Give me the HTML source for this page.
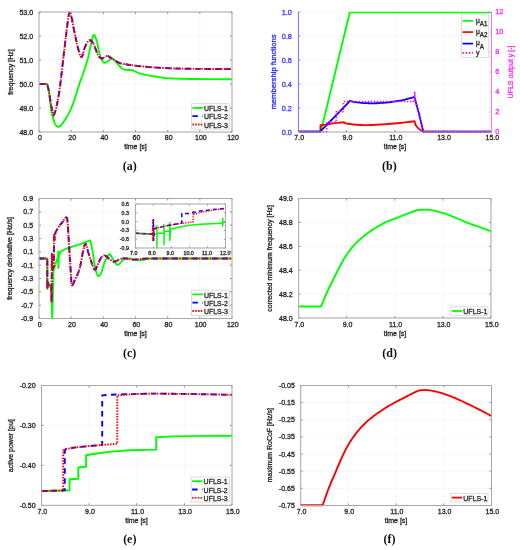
<!DOCTYPE html>
<html><head><meta charset="utf-8"><title>UFLS figure</title>
<style>
html,body{margin:0;padding:0;background:#fff;}
body{width:520px;height:550px;overflow:hidden;}
svg{display:block;filter:blur(0.3px);}
svg text{font-family:"Liberation Sans", Arial, sans-serif;stroke-width:0.3px;}
svg text.cap{font-family:"Liberation Serif", "Times New Roman", serif;font-weight:bold;}
</style></head><body>
<svg width="520" height="550" viewBox="0 0 520 550">
<rect x="0" y="0" width="520" height="550" fill="#fff"/>
<line x1="39.00" y1="12.00" x2="39.00" y2="132.00" stroke="#f2f2f2" stroke-width="0.6"/>
<line x1="71.17" y1="12.00" x2="71.17" y2="132.00" stroke="#f2f2f2" stroke-width="0.6"/>
<line x1="103.33" y1="12.00" x2="103.33" y2="132.00" stroke="#f2f2f2" stroke-width="0.6"/>
<line x1="135.50" y1="12.00" x2="135.50" y2="132.00" stroke="#f2f2f2" stroke-width="0.6"/>
<line x1="167.67" y1="12.00" x2="167.67" y2="132.00" stroke="#f2f2f2" stroke-width="0.6"/>
<line x1="199.83" y1="12.00" x2="199.83" y2="132.00" stroke="#f2f2f2" stroke-width="0.6"/>
<line x1="232.00" y1="12.00" x2="232.00" y2="132.00" stroke="#f2f2f2" stroke-width="0.6"/>
<line x1="39.00" y1="132.00" x2="232.00" y2="132.00" stroke="#f2f2f2" stroke-width="0.6"/>
<line x1="39.00" y1="108.00" x2="232.00" y2="108.00" stroke="#f2f2f2" stroke-width="0.6"/>
<line x1="39.00" y1="84.00" x2="232.00" y2="84.00" stroke="#f2f2f2" stroke-width="0.6"/>
<line x1="39.00" y1="60.00" x2="232.00" y2="60.00" stroke="#f2f2f2" stroke-width="0.6"/>
<line x1="39.00" y1="36.00" x2="232.00" y2="36.00" stroke="#f2f2f2" stroke-width="0.6"/>
<line x1="39.00" y1="12.00" x2="232.00" y2="12.00" stroke="#f2f2f2" stroke-width="0.6"/>
<polyline points="39.00,84.00 47.20,84.00 47.20,84.00 47.51,85.15 47.96,86.74 48.47,88.96 49.00,92.00 49.59,96.65 50.26,102.55 50.88,108.20 51.30,112.10 51.30,112.10 51.63,113.20 52.09,114.78 52.64,116.62 53.21,118.51 53.75,120.24 54.20,121.60 54.56,122.58 54.87,123.34 55.16,123.95 55.43,124.44 55.70,124.88 56.00,125.30 56.32,125.70 56.66,126.04 57.00,126.32 57.34,126.54 57.68,126.70 58.00,126.80 58.31,126.84 58.61,126.80 58.91,126.71 59.20,126.57 59.50,126.39 59.80,126.20 60.07,126.05 60.29,125.94 60.51,125.79 60.78,125.54 61.16,125.10 61.70,124.40 62.43,123.42 63.32,122.20 64.31,120.81 65.36,119.26 66.41,117.61 67.40,115.90 68.34,114.18 69.26,112.43 70.17,110.57 71.11,108.53 72.08,106.23 73.10,103.60 74.23,100.36 75.47,96.53 76.75,92.44 77.98,88.43 79.09,84.83 80.00,82.00 80.64,80.17 81.05,79.12 81.34,78.49 81.61,77.92 81.96,77.05 82.50,75.50 83.27,73.18 84.20,70.35 85.22,67.22 86.24,63.98 87.19,60.84 88.00,58.00 88.65,55.41 89.20,52.89 89.68,50.47 90.12,48.17 90.55,46.00 91.00,44.00 91.45,42.05 91.89,40.11 92.31,38.31 92.73,36.78 93.16,35.63 93.60,35.00 94.05,34.91 94.49,35.26 94.94,36.00 95.40,37.07 95.88,38.43 96.40,40.00 96.96,42.02 97.56,44.57 98.19,47.41 98.81,50.26 99.43,52.88 100.00,55.00 100.55,56.64 101.08,57.99 101.60,59.11 102.10,60.03 102.56,60.82 103.00,61.50 103.39,62.05 103.72,62.41 104.03,62.64 104.33,62.75 104.65,62.79 105.00,62.80 105.37,62.75 105.73,62.61 106.11,62.41 106.52,62.14 106.98,61.83 107.50,61.50 108.10,61.05 108.77,60.45 109.49,59.81 110.23,59.24 110.97,58.83 111.70,58.70 112.40,58.87 113.10,59.27 113.80,59.83 114.51,60.51 115.24,61.25 116.00,62.00 116.81,62.83 117.66,63.80 118.54,64.83 119.40,65.84 120.23,66.75 121.00,67.50 121.68,68.07 122.31,68.51 122.89,68.87 123.47,69.15 124.06,69.39 124.70,69.60 125.39,69.76 126.10,69.86 126.83,69.90 127.57,69.92 128.29,69.95 129.00,70.00 129.67,70.06 130.32,70.09 130.96,70.13 131.60,70.20 132.28,70.31 133.00,70.50 133.76,70.79 134.56,71.16 135.38,71.57 136.22,72.01 137.10,72.43 138.00,72.80 138.88,73.11 139.74,73.40 140.62,73.67 141.59,73.93 142.70,74.21 144.00,74.50 145.53,74.82 147.24,75.16 149.09,75.50 151.04,75.84 153.02,76.18 155.00,76.50 156.94,76.81 158.87,77.13 160.84,77.43 162.91,77.72 165.11,77.98 167.50,78.20 170.10,78.38 172.87,78.53 175.78,78.64 178.80,78.74 181.88,78.82 185.00,78.90 188.11,78.96 191.22,79.01 194.41,79.04 197.72,79.06 201.23,79.08 205.00,79.10 209.41,79.12 214.48,79.14 219.75,79.16 224.74,79.18 228.98,79.19 232.00,79.20" fill="none" stroke="#00ff00" stroke-width="1.9" stroke-linejoin="round"/>
<polyline points="39.00,84.00 47.20,84.00 47.20,84.00 47.51,85.30 47.96,87.12 48.47,89.39 49.00,92.00 49.54,95.19 50.11,98.91 50.71,102.68 51.30,106.00 51.95,108.89 52.64,111.58 53.27,113.82 53.70,115.40 53.70,115.40 53.96,114.72 54.31,113.85 54.73,112.79 55.18,111.53 55.65,110.06 56.10,108.40 56.55,106.45 57.04,104.20 57.53,101.75 58.02,99.20 58.48,96.65 58.90,94.20 59.24,92.09 59.51,90.27 59.76,88.46 60.03,86.35 60.36,83.63 60.80,80.00 61.38,75.12 62.07,69.17 62.83,62.61 63.60,55.92 64.34,49.56 65.00,44.00 65.59,39.12 66.14,34.50 66.66,30.22 67.15,26.34 67.59,22.91 68.00,20.00 68.34,17.64 68.63,15.80 68.87,14.41 69.10,13.42 69.33,12.77 69.60,12.40 69.89,12.36 70.19,12.72 70.49,13.41 70.81,14.39 71.15,15.61 71.50,17.00 71.86,18.62 72.23,20.53 72.62,22.66 73.03,24.99 73.49,27.45 74.00,30.00 74.59,32.81 75.24,35.96 75.94,39.25 76.65,42.48 77.34,45.46 78.00,48.00 78.61,50.24 79.20,52.37 79.78,54.25 80.35,55.74 80.92,56.70 81.50,57.00 82.08,56.39 82.65,54.94 83.22,52.97 83.80,50.78 84.39,48.68 85.00,47.00 85.64,45.61 86.30,44.24 86.97,42.97 87.65,41.87 88.33,41.02 89.00,40.50 89.66,40.29 90.30,40.31 90.94,40.59 91.59,41.13 92.28,41.93 93.00,43.00 93.79,44.55 94.65,46.61 95.53,48.94 96.41,51.28 97.24,53.38 98.00,55.00 98.68,56.13 99.31,56.96 99.91,57.56 100.46,57.98 100.99,58.28 101.50,58.50 101.96,58.60 102.37,58.52 102.75,58.31 103.13,58.04 103.54,57.75 104.00,57.50 104.51,57.23 105.06,56.89 105.62,56.53 106.22,56.22 106.85,56.02 107.50,56.00 108.16,56.16 108.81,56.47 109.50,56.88 110.24,57.38 111.06,57.93 112.00,58.50 113.09,59.16 114.31,59.94 115.62,60.77 116.96,61.59 118.27,62.32 119.50,62.90 120.63,63.31 121.69,63.60 122.73,63.80 123.77,63.96 124.85,64.11 126.00,64.30 127.19,64.51 128.38,64.71 129.61,64.91 130.90,65.11 132.29,65.30 133.80,65.50 135.43,65.70 137.14,65.90 138.95,66.11 140.86,66.31 142.87,66.51 145.00,66.70 147.22,66.89 149.53,67.09 151.95,67.28 154.49,67.46 157.17,67.64 160.00,67.80 163.04,67.96 166.30,68.11 169.69,68.25 173.15,68.38 176.61,68.50 180.00,68.60 183.19,68.68 186.22,68.74 189.25,68.79 192.44,68.83 195.97,68.86 200.00,68.90 205.01,68.94 210.96,68.98 217.25,69.02 223.26,69.05 228.38,69.08 232.00,69.10" fill="none" stroke="#0000ff" stroke-width="1.9" stroke-linejoin="round" stroke-dasharray="5.5,4.5"/>
<polyline points="39.00,84.00 47.20,84.00 47.20,84.00 47.51,85.30 47.96,87.12 48.47,89.39 49.00,92.00 49.54,95.19 50.11,98.91 50.71,102.68 51.30,106.00 51.95,108.89 52.64,111.58 53.27,113.82 53.70,115.40 53.70,115.40 53.96,114.72 54.31,113.85 54.73,112.79 55.18,111.53 55.65,110.06 56.10,108.40 56.55,106.45 57.04,104.20 57.53,101.75 58.02,99.20 58.48,96.65 58.90,94.20 59.24,92.09 59.51,90.27 59.76,88.46 60.03,86.35 60.36,83.63 60.80,80.00 61.38,75.12 62.07,69.17 62.83,62.61 63.60,55.92 64.34,49.56 65.00,44.00 65.59,39.12 66.14,34.50 66.66,30.22 67.15,26.34 67.59,22.91 68.00,20.00 68.34,17.64 68.63,15.80 68.87,14.41 69.10,13.42 69.33,12.77 69.60,12.40 69.89,12.36 70.19,12.72 70.49,13.41 70.81,14.39 71.15,15.61 71.50,17.00 71.86,18.62 72.23,20.53 72.62,22.66 73.03,24.99 73.49,27.45 74.00,30.00 74.59,32.81 75.24,35.96 75.94,39.25 76.65,42.48 77.34,45.46 78.00,48.00 78.61,50.24 79.20,52.37 79.78,54.25 80.35,55.74 80.92,56.70 81.50,57.00 82.08,56.39 82.65,54.94 83.22,52.97 83.80,50.78 84.39,48.68 85.00,47.00 85.64,45.61 86.30,44.24 86.97,42.97 87.65,41.87 88.33,41.02 89.00,40.50 89.66,40.29 90.30,40.31 90.94,40.59 91.59,41.13 92.28,41.93 93.00,43.00 93.79,44.55 94.65,46.61 95.53,48.94 96.41,51.28 97.24,53.38 98.00,55.00 98.68,56.13 99.31,56.96 99.91,57.56 100.46,57.98 100.99,58.28 101.50,58.50 101.96,58.60 102.37,58.52 102.75,58.31 103.13,58.04 103.54,57.75 104.00,57.50 104.51,57.23 105.06,56.89 105.62,56.53 106.22,56.22 106.85,56.02 107.50,56.00 108.16,56.16 108.81,56.47 109.50,56.88 110.24,57.38 111.06,57.93 112.00,58.50 113.09,59.16 114.31,59.94 115.62,60.77 116.96,61.59 118.27,62.32 119.50,62.90 120.63,63.31 121.69,63.60 122.73,63.80 123.77,63.96 124.85,64.11 126.00,64.30 127.19,64.51 128.38,64.71 129.61,64.91 130.90,65.11 132.29,65.30 133.80,65.50 135.43,65.70 137.14,65.90 138.95,66.11 140.86,66.31 142.87,66.51 145.00,66.70 147.22,66.89 149.53,67.09 151.95,67.28 154.49,67.46 157.17,67.64 160.00,67.80 163.04,67.96 166.30,68.11 169.69,68.25 173.15,68.38 176.61,68.50 180.00,68.60 183.19,68.68 186.22,68.74 189.25,68.79 192.44,68.83 195.97,68.86 200.00,68.90 205.01,68.94 210.96,68.98 217.25,69.02 223.26,69.05 228.38,69.08 232.00,69.10" fill="none" stroke="#ff0000" stroke-width="1.9" stroke-linejoin="round" stroke-dasharray="1.5,1.3"/>
<line x1="39.00" y1="132.00" x2="39.00" y2="130.00" stroke="#7a7a7a" stroke-width="0.8"/>
<line x1="39.00" y1="12.00" x2="39.00" y2="14.00" stroke="#7a7a7a" stroke-width="0.8"/>
<line x1="71.17" y1="132.00" x2="71.17" y2="130.00" stroke="#7a7a7a" stroke-width="0.8"/>
<line x1="71.17" y1="12.00" x2="71.17" y2="14.00" stroke="#7a7a7a" stroke-width="0.8"/>
<line x1="103.33" y1="132.00" x2="103.33" y2="130.00" stroke="#7a7a7a" stroke-width="0.8"/>
<line x1="103.33" y1="12.00" x2="103.33" y2="14.00" stroke="#7a7a7a" stroke-width="0.8"/>
<line x1="135.50" y1="132.00" x2="135.50" y2="130.00" stroke="#7a7a7a" stroke-width="0.8"/>
<line x1="135.50" y1="12.00" x2="135.50" y2="14.00" stroke="#7a7a7a" stroke-width="0.8"/>
<line x1="167.67" y1="132.00" x2="167.67" y2="130.00" stroke="#7a7a7a" stroke-width="0.8"/>
<line x1="167.67" y1="12.00" x2="167.67" y2="14.00" stroke="#7a7a7a" stroke-width="0.8"/>
<line x1="199.83" y1="132.00" x2="199.83" y2="130.00" stroke="#7a7a7a" stroke-width="0.8"/>
<line x1="199.83" y1="12.00" x2="199.83" y2="14.00" stroke="#7a7a7a" stroke-width="0.8"/>
<line x1="232.00" y1="132.00" x2="232.00" y2="130.00" stroke="#7a7a7a" stroke-width="0.8"/>
<line x1="232.00" y1="12.00" x2="232.00" y2="14.00" stroke="#7a7a7a" stroke-width="0.8"/>
<line x1="39.00" y1="132.00" x2="41.00" y2="132.00" stroke="#7a7a7a" stroke-width="0.8"/>
<line x1="39.00" y1="108.00" x2="41.00" y2="108.00" stroke="#7a7a7a" stroke-width="0.8"/>
<line x1="39.00" y1="84.00" x2="41.00" y2="84.00" stroke="#7a7a7a" stroke-width="0.8"/>
<line x1="39.00" y1="60.00" x2="41.00" y2="60.00" stroke="#7a7a7a" stroke-width="0.8"/>
<line x1="39.00" y1="36.00" x2="41.00" y2="36.00" stroke="#7a7a7a" stroke-width="0.8"/>
<line x1="39.00" y1="12.00" x2="41.00" y2="12.00" stroke="#7a7a7a" stroke-width="0.8"/>
<line x1="232.00" y1="132.00" x2="230.00" y2="132.00" stroke="#7a7a7a" stroke-width="0.8"/>
<line x1="232.00" y1="108.00" x2="230.00" y2="108.00" stroke="#7a7a7a" stroke-width="0.8"/>
<line x1="232.00" y1="84.00" x2="230.00" y2="84.00" stroke="#7a7a7a" stroke-width="0.8"/>
<line x1="232.00" y1="60.00" x2="230.00" y2="60.00" stroke="#7a7a7a" stroke-width="0.8"/>
<line x1="232.00" y1="36.00" x2="230.00" y2="36.00" stroke="#7a7a7a" stroke-width="0.8"/>
<line x1="232.00" y1="12.00" x2="230.00" y2="12.00" stroke="#7a7a7a" stroke-width="0.8"/>
<line x1="39.00" y1="12.00" x2="232.00" y2="12.00" stroke="#a8a8a8" stroke-width="1.0"/>
<line x1="39.00" y1="132.00" x2="232.00" y2="132.00" stroke="#a8a8a8" stroke-width="1.0"/>
<line x1="39.00" y1="12.00" x2="39.00" y2="132.00" stroke="#a8a8a8" stroke-width="1.0"/>
<line x1="232.00" y1="12.00" x2="232.00" y2="132.00" stroke="#a8a8a8" stroke-width="1.0"/>
<text x="40.00" y="140.20" font-size="7" fill="#262626" stroke="#262626" text-anchor="middle">0</text>
<text x="72.17" y="140.20" font-size="7" fill="#262626" stroke="#262626" text-anchor="middle">20</text>
<text x="104.33" y="140.20" font-size="7" fill="#262626" stroke="#262626" text-anchor="middle">40</text>
<text x="136.50" y="140.20" font-size="7" fill="#262626" stroke="#262626" text-anchor="middle">60</text>
<text x="168.67" y="140.20" font-size="7" fill="#262626" stroke="#262626" text-anchor="middle">80</text>
<text x="200.83" y="140.20" font-size="7" fill="#262626" stroke="#262626" text-anchor="middle">100</text>
<text x="233.00" y="140.20" font-size="7" fill="#262626" stroke="#262626" text-anchor="middle">120</text>
<text x="33.10" y="134.50" font-size="7" fill="#262626" stroke="#262626" text-anchor="end">48.0</text>
<text x="33.10" y="110.50" font-size="7" fill="#262626" stroke="#262626" text-anchor="end">49.0</text>
<text x="33.10" y="86.50" font-size="7" fill="#262626" stroke="#262626" text-anchor="end">50.0</text>
<text x="33.10" y="62.50" font-size="7" fill="#262626" stroke="#262626" text-anchor="end">51.0</text>
<text x="33.10" y="38.50" font-size="7" fill="#262626" stroke="#262626" text-anchor="end">52.0</text>
<text x="33.10" y="14.50" font-size="7" fill="#262626" stroke="#262626" text-anchor="end">53.0</text>
<text x="0" y="0" font-size="7.05" fill="#262626" stroke="#262626" text-anchor="middle" transform="translate(12.80,72.00) rotate(-90)">frequency [Hz]</text>
<text x="135.50" y="149.00" font-size="7" fill="#262626" stroke="#262626" text-anchor="middle">time [s]</text>
<rect x="191.40" y="103.70" width="37.80" height="25.40" fill="#fff" stroke="#d4d4d4" stroke-width="0.8"/>
<line x1="192.40" y1="107.90" x2="202.90" y2="107.90" stroke="#00ff00" stroke-width="1.8"/>
<text x="203.90" y="111.00" font-size="7" fill="#262626" stroke="#262626">UFLS-1</text>
<line x1="192.40" y1="116.20" x2="202.90" y2="116.20" stroke="#0000ff" stroke-width="1.8" stroke-dasharray="5.5,4.5"/>
<text x="203.90" y="119.30" font-size="7" fill="#262626" stroke="#262626">UFLS-2</text>
<line x1="192.40" y1="124.50" x2="202.90" y2="124.50" stroke="#ff0000" stroke-width="1.8" stroke-dasharray="1.5,1.3"/>
<text x="203.90" y="127.60" font-size="7" fill="#262626" stroke="#262626">UFLS-3</text>
<text class="cap" x="129.80" y="169.90" font-size="12" fill="#111" text-anchor="middle">(a)</text>
<line x1="298.40" y1="12.00" x2="298.40" y2="132.00" stroke="#f2f2f2" stroke-width="0.6"/>
<line x1="346.67" y1="12.00" x2="346.67" y2="132.00" stroke="#f2f2f2" stroke-width="0.6"/>
<line x1="394.95" y1="12.00" x2="394.95" y2="132.00" stroke="#f2f2f2" stroke-width="0.6"/>
<line x1="443.23" y1="12.00" x2="443.23" y2="132.00" stroke="#f2f2f2" stroke-width="0.6"/>
<line x1="491.50" y1="12.00" x2="491.50" y2="132.00" stroke="#f2f2f2" stroke-width="0.6"/>
<line x1="298.40" y1="132.00" x2="491.50" y2="132.00" stroke="#f2f2f2" stroke-width="0.6"/>
<line x1="298.40" y1="108.00" x2="491.50" y2="108.00" stroke="#f2f2f2" stroke-width="0.6"/>
<line x1="298.40" y1="84.00" x2="491.50" y2="84.00" stroke="#f2f2f2" stroke-width="0.6"/>
<line x1="298.40" y1="60.00" x2="491.50" y2="60.00" stroke="#f2f2f2" stroke-width="0.6"/>
<line x1="298.40" y1="36.00" x2="491.50" y2="36.00" stroke="#f2f2f2" stroke-width="0.6"/>
<line x1="298.40" y1="12.00" x2="491.50" y2="12.00" stroke="#f2f2f2" stroke-width="0.6"/>
<clipPath id="cpb"><rect x="290" y="11.7" width="210" height="130"/></clipPath><g clip-path="url(#cpb)">
<polyline points="299.00,131.60 320.80,131.60 349.80,12.30 491.50,12.30" fill="none" stroke="#00ff00" stroke-width="1.9" stroke-linejoin="round"/>
<polyline points="299.00,131.60 320.50,131.60 320.50,125.20 325.40,124.60 336.60,122.90 344.00,122.30 345.30,123.30 345.30,123.30 346.01,123.41 346.99,123.57 348.15,123.76 349.42,123.95 350.73,124.14 352.00,124.30 353.25,124.44 354.53,124.58 355.86,124.71 357.21,124.82 358.59,124.92 360.00,125.00 361.42,125.06 362.85,125.10 364.31,125.13 365.81,125.14 367.37,125.13 369.00,125.10 370.65,125.05 372.30,124.97 374.00,124.88 375.81,124.77 377.80,124.64 380.00,124.50 382.48,124.35 385.20,124.18 388.09,123.99 391.07,123.79 394.07,123.56 397.00,123.30 400.09,122.98 403.44,122.59 406.81,122.17 409.94,121.78 412.59,121.44 414.50,121.20 415.50,124.80 415.50,124.80 415.77,125.14 416.15,125.61 416.59,126.16 417.07,126.75 417.55,127.31 418.00,127.80 418.42,128.22 418.83,128.61 419.25,128.99 419.67,129.34 420.08,129.68 420.50,130.00 420.95,130.32 421.43,130.64 421.91,130.94 422.35,131.21 422.73,131.43 423.00,131.60 491.50,131.60" fill="none" stroke="#ff0000" stroke-width="1.9" stroke-linejoin="round"/>
<polyline points="299.00,131.60 320.20,131.60 349.60,101.30 349.60,101.00 350.61,101.20 351.97,101.48 353.59,101.81 355.42,102.15 357.38,102.46 359.40,102.70 361.55,102.88 363.89,103.04 366.36,103.17 368.90,103.26 371.43,103.31 373.90,103.30 376.31,103.24 378.71,103.13 381.11,102.97 383.50,102.78 385.90,102.55 388.30,102.30 390.73,102.01 393.20,101.69 395.67,101.34 398.10,100.95 400.46,100.54 402.70,100.10 404.94,99.59 407.23,98.99 409.45,98.36 411.47,97.77 413.16,97.26 414.40,96.90 415.80,101.90 419.20,114.60 423.30,131.60 491.50,131.60" fill="none" stroke="#0000ff" stroke-width="1.8" stroke-linejoin="round"/>
<polyline points="299.00,131.80 326.60,131.80 326.60,122.00 336.20,122.00 336.20,111.80 343.50,111.80 343.50,101.60 414.60,101.60 414.60,91.60 415.40,101.00 419.20,114.60 423.30,131.80 491.50,131.80" fill="none" stroke="#ff00ff" stroke-width="1.5" stroke-linejoin="round" stroke-dasharray="1.4,1.6"/>
</g>
<line x1="298.40" y1="132.00" x2="298.40" y2="130.00" stroke="#7a7a7a" stroke-width="0.8"/>
<line x1="346.67" y1="132.00" x2="346.67" y2="130.00" stroke="#7a7a7a" stroke-width="0.8"/>
<line x1="394.95" y1="132.00" x2="394.95" y2="130.00" stroke="#7a7a7a" stroke-width="0.8"/>
<line x1="443.23" y1="132.00" x2="443.23" y2="130.00" stroke="#7a7a7a" stroke-width="0.8"/>
<line x1="491.50" y1="132.00" x2="491.50" y2="130.00" stroke="#7a7a7a" stroke-width="0.8"/>
<line x1="298.40" y1="132.00" x2="300.40" y2="132.00" stroke="#7070ff" stroke-width="0.8"/>
<line x1="298.40" y1="108.00" x2="300.40" y2="108.00" stroke="#7070ff" stroke-width="0.8"/>
<line x1="298.40" y1="84.00" x2="300.40" y2="84.00" stroke="#7070ff" stroke-width="0.8"/>
<line x1="298.40" y1="60.00" x2="300.40" y2="60.00" stroke="#7070ff" stroke-width="0.8"/>
<line x1="298.40" y1="36.00" x2="300.40" y2="36.00" stroke="#7070ff" stroke-width="0.8"/>
<line x1="298.40" y1="12.00" x2="300.40" y2="12.00" stroke="#7070ff" stroke-width="0.8"/>
<line x1="491.50" y1="132.00" x2="489.50" y2="132.00" stroke="#ff70ff" stroke-width="0.8"/>
<line x1="491.50" y1="112.00" x2="489.50" y2="112.00" stroke="#ff70ff" stroke-width="0.8"/>
<line x1="491.50" y1="92.00" x2="489.50" y2="92.00" stroke="#ff70ff" stroke-width="0.8"/>
<line x1="491.50" y1="72.00" x2="489.50" y2="72.00" stroke="#ff70ff" stroke-width="0.8"/>
<line x1="491.50" y1="52.00" x2="489.50" y2="52.00" stroke="#ff70ff" stroke-width="0.8"/>
<line x1="491.50" y1="32.00" x2="489.50" y2="32.00" stroke="#ff70ff" stroke-width="0.8"/>
<line x1="491.50" y1="12.00" x2="489.50" y2="12.00" stroke="#ff70ff" stroke-width="0.8"/>
<line x1="298.40" y1="132.00" x2="491.50" y2="132.00" stroke="#a8a8a8" stroke-width="1.0"/>
<line x1="298.40" y1="12.00" x2="298.40" y2="132.00" stroke="#7070ff" stroke-width="1.0"/>
<line x1="491.50" y1="12.00" x2="491.50" y2="132.00" stroke="#ff70ff" stroke-width="1.0"/>
<text x="299.20" y="140.00" font-size="7" fill="#262626" stroke="#262626" text-anchor="middle">7.0</text>
<text x="347.47" y="140.00" font-size="7" fill="#262626" stroke="#262626" text-anchor="middle">9.0</text>
<text x="395.75" y="140.00" font-size="7" fill="#262626" stroke="#262626" text-anchor="middle">11.0</text>
<text x="444.03" y="140.00" font-size="7" fill="#262626" stroke="#262626" text-anchor="middle">13.0</text>
<text x="492.30" y="140.00" font-size="7" fill="#262626" stroke="#262626" text-anchor="middle">15.0</text>
<text x="291.90" y="134.50" font-size="7.3" fill="#3a3aff" stroke="#3a3aff" text-anchor="end">0.0</text>
<text x="291.90" y="110.50" font-size="7.3" fill="#3a3aff" stroke="#3a3aff" text-anchor="end">0.2</text>
<text x="291.90" y="86.50" font-size="7.3" fill="#3a3aff" stroke="#3a3aff" text-anchor="end">0.4</text>
<text x="291.90" y="62.50" font-size="7.3" fill="#3a3aff" stroke="#3a3aff" text-anchor="end">0.6</text>
<text x="291.90" y="38.50" font-size="7.3" fill="#3a3aff" stroke="#3a3aff" text-anchor="end">0.8</text>
<text x="291.90" y="14.50" font-size="7.3" fill="#3a3aff" stroke="#3a3aff" text-anchor="end">1.0</text>
<text x="495.30" y="133.80" font-size="7.3" fill="#ff2aff" stroke="#ff2aff" text-anchor="start">0</text>
<text x="495.30" y="113.80" font-size="7.3" fill="#ff2aff" stroke="#ff2aff" text-anchor="start">2</text>
<text x="495.30" y="93.80" font-size="7.3" fill="#ff2aff" stroke="#ff2aff" text-anchor="start">4</text>
<text x="495.30" y="73.80" font-size="7.3" fill="#ff2aff" stroke="#ff2aff" text-anchor="start">6</text>
<text x="495.30" y="53.80" font-size="7.3" fill="#ff2aff" stroke="#ff2aff" text-anchor="start">8</text>
<text x="495.30" y="33.80" font-size="7.3" fill="#ff2aff" stroke="#ff2aff" text-anchor="start">10</text>
<text x="495.30" y="13.80" font-size="7.3" fill="#ff2aff" stroke="#ff2aff" text-anchor="start">12</text>
<text x="0" y="0" font-size="7.7" fill="#2a2aff" stroke="#2a2aff" text-anchor="middle" transform="translate(276.30,72.00) rotate(-90)">membership functions</text>
<text x="0" y="0" font-size="7.0" fill="#ff2aff" stroke="#ff2aff" text-anchor="middle" transform="translate(513.00,72.00) rotate(-90)">UFLS output y [-]</text>
<text x="395.00" y="149.00" font-size="7" fill="#262626" stroke="#262626" text-anchor="middle">time [s]</text>
<text class="cap" x="389.40" y="169.90" font-size="12" fill="#111" text-anchor="middle">(b)</text>
<rect x="461.5" y="14.1" width="27.2" height="43.2" fill="#fff" stroke="#d4d4d4" stroke-width="0.8"/>
<line x1="462.5" y1="20.90" x2="473" y2="20.90" stroke="#00ff00" stroke-width="1.7"/>
<text x="475.9" y="22.50" font-size="7" fill="#262626" stroke="#262626"><tspan font-size="6.6">μ</tspan><tspan font-size="6.3" dy="3.3">A1</tspan></text>
<line x1="462.5" y1="32.10" x2="473" y2="32.10" stroke="#ff0000" stroke-width="1.7"/>
<text x="475.9" y="33.70" font-size="7" fill="#262626" stroke="#262626"><tspan font-size="6.6">μ</tspan><tspan font-size="6.3" dy="3.3">A2</tspan></text>
<line x1="462.5" y1="43.60" x2="473" y2="43.60" stroke="#0000ff" stroke-width="1.7"/>
<text x="475.9" y="45.20" font-size="7" fill="#262626" stroke="#262626"><tspan font-size="6.6">μ</tspan><tspan font-size="6.3" dy="3.3">A</tspan></text>
<line x1="462.5" y1="52.90" x2="473" y2="52.90" stroke="#ff00ff" stroke-width="1.7" stroke-dasharray="1.6,1.6"/>
<text x="476" y="55.10" font-size="7.2" fill="#262626" stroke="#262626">y</text>
<line x1="39.00" y1="198.50" x2="39.00" y2="318.50" stroke="#f2f2f2" stroke-width="0.6"/>
<line x1="71.17" y1="198.50" x2="71.17" y2="318.50" stroke="#f2f2f2" stroke-width="0.6"/>
<line x1="103.33" y1="198.50" x2="103.33" y2="318.50" stroke="#f2f2f2" stroke-width="0.6"/>
<line x1="135.50" y1="198.50" x2="135.50" y2="318.50" stroke="#f2f2f2" stroke-width="0.6"/>
<line x1="167.67" y1="198.50" x2="167.67" y2="318.50" stroke="#f2f2f2" stroke-width="0.6"/>
<line x1="199.83" y1="198.50" x2="199.83" y2="318.50" stroke="#f2f2f2" stroke-width="0.6"/>
<line x1="232.00" y1="198.50" x2="232.00" y2="318.50" stroke="#f2f2f2" stroke-width="0.6"/>
<line x1="39.00" y1="318.50" x2="232.00" y2="318.50" stroke="#f2f2f2" stroke-width="0.6"/>
<line x1="39.00" y1="305.17" x2="232.00" y2="305.17" stroke="#f2f2f2" stroke-width="0.6"/>
<line x1="39.00" y1="291.83" x2="232.00" y2="291.83" stroke="#f2f2f2" stroke-width="0.6"/>
<line x1="39.00" y1="278.50" x2="232.00" y2="278.50" stroke="#f2f2f2" stroke-width="0.6"/>
<line x1="39.00" y1="265.17" x2="232.00" y2="265.17" stroke="#f2f2f2" stroke-width="0.6"/>
<line x1="39.00" y1="251.83" x2="232.00" y2="251.83" stroke="#f2f2f2" stroke-width="0.6"/>
<line x1="39.00" y1="238.50" x2="232.00" y2="238.50" stroke="#f2f2f2" stroke-width="0.6"/>
<line x1="39.00" y1="225.17" x2="232.00" y2="225.17" stroke="#f2f2f2" stroke-width="0.6"/>
<line x1="39.00" y1="211.83" x2="232.00" y2="211.83" stroke="#f2f2f2" stroke-width="0.6"/>
<line x1="39.00" y1="198.50" x2="232.00" y2="198.50" stroke="#f2f2f2" stroke-width="0.6"/>
<polyline points="39.00,258.50 47.30,258.50 47.30,289.00 48.00,282.50 51.30,288.00 52.20,318.50 53.60,270.60 56.20,262.00 58.00,256.80 58.20,251.60 58.40,268.00 58.80,257.00 60.50,251.60 60.50,251.60 61.20,251.23 62.13,250.73 63.25,250.14 64.54,249.49 65.96,248.83 67.50,248.20 69.23,247.59 71.18,246.97 73.27,246.34 75.41,245.70 77.52,245.05 79.50,244.40 81.48,243.70 83.56,242.93 85.60,242.16 87.47,241.44 89.05,240.84 90.20,240.40 90.20,240.40 90.43,241.35 90.75,242.62 91.13,244.15 91.54,245.86 91.94,247.66 92.30,249.50 92.62,251.45 92.93,253.58 93.24,255.82 93.54,258.07 93.86,260.26 94.20,262.30 94.56,264.25 94.94,266.20 95.34,268.08 95.73,269.83 96.12,271.39 96.50,272.70 96.86,273.76 97.20,274.64 97.53,275.32 97.87,275.81 98.22,276.10 98.60,276.20 99.00,276.10 99.40,275.81 99.82,275.32 100.26,274.64 100.71,273.76 101.20,272.70 101.71,271.34 102.23,269.66 102.78,267.79 103.35,265.85 103.95,263.98 104.60,262.30 105.31,260.67 106.09,258.96 106.89,257.31 107.70,255.87 108.48,254.79 109.20,254.20 109.85,254.22 110.45,254.77 111.02,255.67 111.57,256.75 112.13,257.85 112.70,258.80 113.30,259.69 113.91,260.66 114.52,261.65 115.12,262.59 115.69,263.39 116.20,264.00 116.64,264.41 117.01,264.69 117.36,264.84 117.70,264.87 118.07,264.78 118.50,264.60 118.99,264.26 119.51,263.74 120.06,263.12 120.64,262.44 121.25,261.78 121.90,261.20 122.57,260.64 123.26,260.05 123.98,259.47 124.74,258.95 125.58,258.55 126.50,258.30 127.54,258.26 128.70,258.38 129.93,258.62 131.17,258.91 132.38,259.19 133.50,259.40 134.52,259.57 135.49,259.74 136.43,259.91 137.34,260.05 138.26,260.15 139.20,260.20 140.15,260.19 141.08,260.12 142.02,260.01 142.97,259.88 143.96,259.74 145.00,259.60 145.25,259.45 144.54,259.26 143.86,259.07 144.21,258.88 146.59,258.72 152.00,258.60 162.03,258.53 176.22,258.50 192.44,258.49 208.56,258.49 222.45,258.50 232.00,258.50" fill="none" stroke="#00ff00" stroke-width="1.9" stroke-linejoin="round"/>
<polyline points="39.00,258.50 47.30,258.50 47.30,289.00 48.00,282.50 51.30,288.00 51.60,302.50 51.90,254.00 52.40,270.00 53.80,266.00 54.10,233.50 54.60,240.00 55.40,232.60 55.40,232.60 55.77,231.93 56.28,230.98 56.88,229.87 57.53,228.70 58.19,227.57 58.80,226.60 59.37,225.79 59.95,225.06 60.53,224.38 61.11,223.71 61.70,223.03 62.30,222.30 62.94,221.40 63.63,220.35 64.32,219.28 64.99,218.33 65.60,217.66 66.10,217.40 66.48,217.41 66.77,217.53 66.99,217.93 67.18,218.75 67.37,220.15 67.60,222.30 67.86,225.40 68.12,229.38 68.39,233.94 68.66,238.80 68.93,243.65 69.20,248.20 69.49,252.67 69.79,257.34 70.09,262.01 70.39,266.48 70.66,270.54 70.90,274.00 71.08,276.90 71.20,279.42 71.29,281.53 71.40,283.23 71.56,284.49 71.80,285.30 72.11,285.58 72.45,285.31 72.84,284.61 73.29,283.59 73.80,282.35 74.40,281.00 75.12,279.49 75.97,277.74 76.89,275.76 77.83,273.61 78.71,271.31 79.50,268.90 80.19,266.21 80.82,263.16 81.41,259.97 81.96,256.85 82.49,253.99 83.00,251.60 83.48,249.57 83.92,247.70 84.34,246.09 84.74,244.86 85.16,244.09 85.60,243.90 86.06,244.44 86.53,245.67 87.00,247.37 87.49,249.32 87.98,251.30 88.50,253.10 89.04,254.81 89.61,256.63 90.20,258.48 90.79,260.29 91.36,261.99 91.90,263.50 92.41,264.92 92.90,266.33 93.38,267.62 93.85,268.70 94.32,269.46 94.80,269.80 95.28,269.62 95.74,268.98 96.21,268.03 96.69,266.89 97.18,265.70 97.70,264.60 98.25,263.50 98.83,262.26 99.42,260.97 100.02,259.72 100.62,258.60 101.20,257.70 101.76,256.98 102.30,256.38 102.83,255.91 103.38,255.57 103.97,255.40 104.60,255.40 105.30,255.64 106.04,256.13 106.82,256.78 107.62,257.49 108.42,258.20 109.20,258.80 109.95,259.37 110.69,260.00 111.42,260.61 112.18,261.14 112.96,261.52 113.80,261.70 114.71,261.60 115.69,261.27 116.70,260.80 117.71,260.27 118.69,259.77 119.60,259.40 120.38,259.12 121.05,258.86 121.68,258.62 122.36,258.44 123.18,258.33 124.20,258.30 125.45,258.40 126.87,258.64 128.42,258.94 130.06,259.25 131.77,259.49 133.50,259.60 135.25,259.56 137.04,259.40 138.89,259.19 140.83,258.95 142.86,258.74 145.00,258.60 146.64,258.53 147.63,258.50 148.72,258.49 150.65,258.49 154.16,258.50 160.00,258.50 169.53,258.49 182.44,258.49 196.94,258.49 211.22,258.50 223.51,258.50 232.00,258.50" fill="none" stroke="#0000ff" stroke-width="1.9" stroke-linejoin="round" stroke-dasharray="5.5,4.5"/>
<polyline points="39.00,258.50 47.30,258.50 47.30,289.00 48.00,282.50 51.30,288.00 51.60,302.50 51.90,254.00 52.40,270.00 53.80,266.00 54.10,233.50 54.60,240.00 55.40,232.60 55.40,232.60 55.77,231.93 56.28,230.98 56.88,229.87 57.53,228.70 58.19,227.57 58.80,226.60 59.37,225.79 59.95,225.06 60.53,224.38 61.11,223.71 61.70,223.03 62.30,222.30 62.94,221.40 63.63,220.35 64.32,219.28 64.99,218.33 65.60,217.66 66.10,217.40 66.48,217.41 66.77,217.53 66.99,217.93 67.18,218.75 67.37,220.15 67.60,222.30 67.86,225.40 68.12,229.38 68.39,233.94 68.66,238.80 68.93,243.65 69.20,248.20 69.49,252.67 69.79,257.34 70.09,262.01 70.39,266.48 70.66,270.54 70.90,274.00 71.08,276.90 71.20,279.42 71.29,281.53 71.40,283.23 71.56,284.49 71.80,285.30 72.11,285.58 72.45,285.31 72.84,284.61 73.29,283.59 73.80,282.35 74.40,281.00 75.12,279.49 75.97,277.74 76.89,275.76 77.83,273.61 78.71,271.31 79.50,268.90 80.19,266.21 80.82,263.16 81.41,259.97 81.96,256.85 82.49,253.99 83.00,251.60 83.48,249.57 83.92,247.70 84.34,246.09 84.74,244.86 85.16,244.09 85.60,243.90 86.06,244.44 86.53,245.67 87.00,247.37 87.49,249.32 87.98,251.30 88.50,253.10 89.04,254.81 89.61,256.63 90.20,258.48 90.79,260.29 91.36,261.99 91.90,263.50 92.41,264.92 92.90,266.33 93.38,267.62 93.85,268.70 94.32,269.46 94.80,269.80 95.28,269.62 95.74,268.98 96.21,268.03 96.69,266.89 97.18,265.70 97.70,264.60 98.25,263.50 98.83,262.26 99.42,260.97 100.02,259.72 100.62,258.60 101.20,257.70 101.76,256.98 102.30,256.38 102.83,255.91 103.38,255.57 103.97,255.40 104.60,255.40 105.30,255.64 106.04,256.13 106.82,256.78 107.62,257.49 108.42,258.20 109.20,258.80 109.95,259.37 110.69,260.00 111.42,260.61 112.18,261.14 112.96,261.52 113.80,261.70 114.71,261.60 115.69,261.27 116.70,260.80 117.71,260.27 118.69,259.77 119.60,259.40 120.38,259.12 121.05,258.86 121.68,258.62 122.36,258.44 123.18,258.33 124.20,258.30 125.45,258.40 126.87,258.64 128.42,258.94 130.06,259.25 131.77,259.49 133.50,259.60 135.25,259.56 137.04,259.40 138.89,259.19 140.83,258.95 142.86,258.74 145.00,258.60 146.64,258.53 147.63,258.50 148.72,258.49 150.65,258.49 154.16,258.50 160.00,258.50 169.53,258.49 182.44,258.49 196.94,258.49 211.22,258.50 223.51,258.50 232.00,258.50" fill="none" stroke="#ff0000" stroke-width="1.9" stroke-linejoin="round" stroke-dasharray="1.5,1.3"/>
<line x1="39.00" y1="318.50" x2="39.00" y2="316.50" stroke="#7a7a7a" stroke-width="0.8"/>
<line x1="39.00" y1="198.50" x2="39.00" y2="200.50" stroke="#7a7a7a" stroke-width="0.8"/>
<line x1="71.17" y1="318.50" x2="71.17" y2="316.50" stroke="#7a7a7a" stroke-width="0.8"/>
<line x1="71.17" y1="198.50" x2="71.17" y2="200.50" stroke="#7a7a7a" stroke-width="0.8"/>
<line x1="103.33" y1="318.50" x2="103.33" y2="316.50" stroke="#7a7a7a" stroke-width="0.8"/>
<line x1="103.33" y1="198.50" x2="103.33" y2="200.50" stroke="#7a7a7a" stroke-width="0.8"/>
<line x1="135.50" y1="318.50" x2="135.50" y2="316.50" stroke="#7a7a7a" stroke-width="0.8"/>
<line x1="135.50" y1="198.50" x2="135.50" y2="200.50" stroke="#7a7a7a" stroke-width="0.8"/>
<line x1="167.67" y1="318.50" x2="167.67" y2="316.50" stroke="#7a7a7a" stroke-width="0.8"/>
<line x1="167.67" y1="198.50" x2="167.67" y2="200.50" stroke="#7a7a7a" stroke-width="0.8"/>
<line x1="199.83" y1="318.50" x2="199.83" y2="316.50" stroke="#7a7a7a" stroke-width="0.8"/>
<line x1="199.83" y1="198.50" x2="199.83" y2="200.50" stroke="#7a7a7a" stroke-width="0.8"/>
<line x1="232.00" y1="318.50" x2="232.00" y2="316.50" stroke="#7a7a7a" stroke-width="0.8"/>
<line x1="232.00" y1="198.50" x2="232.00" y2="200.50" stroke="#7a7a7a" stroke-width="0.8"/>
<line x1="39.00" y1="318.50" x2="41.00" y2="318.50" stroke="#7a7a7a" stroke-width="0.8"/>
<line x1="39.00" y1="305.17" x2="41.00" y2="305.17" stroke="#7a7a7a" stroke-width="0.8"/>
<line x1="39.00" y1="291.83" x2="41.00" y2="291.83" stroke="#7a7a7a" stroke-width="0.8"/>
<line x1="39.00" y1="278.50" x2="41.00" y2="278.50" stroke="#7a7a7a" stroke-width="0.8"/>
<line x1="39.00" y1="265.17" x2="41.00" y2="265.17" stroke="#7a7a7a" stroke-width="0.8"/>
<line x1="39.00" y1="251.83" x2="41.00" y2="251.83" stroke="#7a7a7a" stroke-width="0.8"/>
<line x1="39.00" y1="238.50" x2="41.00" y2="238.50" stroke="#7a7a7a" stroke-width="0.8"/>
<line x1="39.00" y1="225.17" x2="41.00" y2="225.17" stroke="#7a7a7a" stroke-width="0.8"/>
<line x1="39.00" y1="211.83" x2="41.00" y2="211.83" stroke="#7a7a7a" stroke-width="0.8"/>
<line x1="39.00" y1="198.50" x2="41.00" y2="198.50" stroke="#7a7a7a" stroke-width="0.8"/>
<line x1="232.00" y1="318.50" x2="230.00" y2="318.50" stroke="#7a7a7a" stroke-width="0.8"/>
<line x1="232.00" y1="305.17" x2="230.00" y2="305.17" stroke="#7a7a7a" stroke-width="0.8"/>
<line x1="232.00" y1="291.83" x2="230.00" y2="291.83" stroke="#7a7a7a" stroke-width="0.8"/>
<line x1="232.00" y1="278.50" x2="230.00" y2="278.50" stroke="#7a7a7a" stroke-width="0.8"/>
<line x1="232.00" y1="265.17" x2="230.00" y2="265.17" stroke="#7a7a7a" stroke-width="0.8"/>
<line x1="232.00" y1="251.83" x2="230.00" y2="251.83" stroke="#7a7a7a" stroke-width="0.8"/>
<line x1="232.00" y1="238.50" x2="230.00" y2="238.50" stroke="#7a7a7a" stroke-width="0.8"/>
<line x1="232.00" y1="225.17" x2="230.00" y2="225.17" stroke="#7a7a7a" stroke-width="0.8"/>
<line x1="232.00" y1="211.83" x2="230.00" y2="211.83" stroke="#7a7a7a" stroke-width="0.8"/>
<line x1="232.00" y1="198.50" x2="230.00" y2="198.50" stroke="#7a7a7a" stroke-width="0.8"/>
<line x1="39.00" y1="198.50" x2="232.00" y2="198.50" stroke="#a8a8a8" stroke-width="1.0"/>
<line x1="39.00" y1="318.50" x2="232.00" y2="318.50" stroke="#a8a8a8" stroke-width="1.0"/>
<line x1="39.00" y1="198.50" x2="39.00" y2="318.50" stroke="#a8a8a8" stroke-width="1.0"/>
<line x1="232.00" y1="198.50" x2="232.00" y2="318.50" stroke="#a8a8a8" stroke-width="1.0"/>
<text x="39.80" y="327.10" font-size="7" fill="#262626" stroke="#262626" text-anchor="middle">0</text>
<text x="71.97" y="327.10" font-size="7" fill="#262626" stroke="#262626" text-anchor="middle">20</text>
<text x="104.13" y="327.10" font-size="7" fill="#262626" stroke="#262626" text-anchor="middle">40</text>
<text x="136.30" y="327.10" font-size="7" fill="#262626" stroke="#262626" text-anchor="middle">60</text>
<text x="168.47" y="327.10" font-size="7" fill="#262626" stroke="#262626" text-anchor="middle">80</text>
<text x="200.63" y="327.10" font-size="7" fill="#262626" stroke="#262626" text-anchor="middle">100</text>
<text x="232.80" y="327.10" font-size="7" fill="#262626" stroke="#262626" text-anchor="middle">120</text>
<text x="33.10" y="321.00" font-size="7" fill="#262626" stroke="#262626" text-anchor="end">-0.9</text>
<text x="33.10" y="307.67" font-size="7" fill="#262626" stroke="#262626" text-anchor="end">-0.7</text>
<text x="33.10" y="294.33" font-size="7" fill="#262626" stroke="#262626" text-anchor="end">-0.5</text>
<text x="33.10" y="281.00" font-size="7" fill="#262626" stroke="#262626" text-anchor="end">-0.3</text>
<text x="33.10" y="267.67" font-size="7" fill="#262626" stroke="#262626" text-anchor="end">-0.1</text>
<text x="33.10" y="254.33" font-size="7" fill="#262626" stroke="#262626" text-anchor="end">0.1</text>
<text x="33.10" y="241.00" font-size="7" fill="#262626" stroke="#262626" text-anchor="end">0.3</text>
<text x="33.10" y="227.67" font-size="7" fill="#262626" stroke="#262626" text-anchor="end">0.5</text>
<text x="33.10" y="214.33" font-size="7" fill="#262626" stroke="#262626" text-anchor="end">0.7</text>
<text x="33.10" y="201.00" font-size="7" fill="#262626" stroke="#262626" text-anchor="end">0.9</text>
<text x="0" y="0" font-size="7.0" fill="#262626" stroke="#262626" text-anchor="middle" transform="translate(12.30,258.40) rotate(-90)">frequency derivative [Hz/s]</text>
<text x="135.50" y="336.00" font-size="7" fill="#262626" stroke="#262626" text-anchor="middle">time [s]</text>
<rect x="191.40" y="290.20" width="37.80" height="25.40" fill="#fff" stroke="#d4d4d4" stroke-width="0.8"/>
<line x1="192.40" y1="294.40" x2="202.90" y2="294.40" stroke="#00ff00" stroke-width="1.8"/>
<text x="203.90" y="297.50" font-size="7" fill="#262626" stroke="#262626">UFLS-1</text>
<line x1="192.40" y1="302.70" x2="202.90" y2="302.70" stroke="#0000ff" stroke-width="1.8" stroke-dasharray="5.5,4.5"/>
<text x="203.90" y="305.80" font-size="7" fill="#262626" stroke="#262626">UFLS-2</text>
<line x1="192.40" y1="311.00" x2="202.90" y2="311.00" stroke="#ff0000" stroke-width="1.8" stroke-dasharray="1.5,1.3"/>
<text x="203.90" y="314.10" font-size="7" fill="#262626" stroke="#262626">UFLS-3</text>
<rect x="135.40" y="204.00" width="90.10" height="44.00" fill="#fff"/>
<line x1="135.40" y1="204.00" x2="135.40" y2="248.00" stroke="#f2f2f2" stroke-width="0.6"/>
<line x1="153.42" y1="204.00" x2="153.42" y2="248.00" stroke="#f2f2f2" stroke-width="0.6"/>
<line x1="171.44" y1="204.00" x2="171.44" y2="248.00" stroke="#f2f2f2" stroke-width="0.6"/>
<line x1="189.46" y1="204.00" x2="189.46" y2="248.00" stroke="#f2f2f2" stroke-width="0.6"/>
<line x1="207.48" y1="204.00" x2="207.48" y2="248.00" stroke="#f2f2f2" stroke-width="0.6"/>
<line x1="225.50" y1="204.00" x2="225.50" y2="248.00" stroke="#f2f2f2" stroke-width="0.6"/>
<line x1="135.40" y1="248.00" x2="225.50" y2="248.00" stroke="#f2f2f2" stroke-width="0.6"/>
<line x1="135.40" y1="239.20" x2="225.50" y2="239.20" stroke="#f2f2f2" stroke-width="0.6"/>
<line x1="135.40" y1="230.40" x2="225.50" y2="230.40" stroke="#f2f2f2" stroke-width="0.6"/>
<line x1="135.40" y1="221.60" x2="225.50" y2="221.60" stroke="#f2f2f2" stroke-width="0.6"/>
<line x1="135.40" y1="212.80" x2="225.50" y2="212.80" stroke="#f2f2f2" stroke-width="0.6"/>
<line x1="135.40" y1="204.00" x2="225.50" y2="204.00" stroke="#f2f2f2" stroke-width="0.6"/>
<polyline points="135.40,233.20 152.50,234.20 153.50,234.20 156.90,234.20 156.90,225.60 156.90,247.70 157.00,233.30 164.00,233.20 164.00,224.60 164.00,244.80 164.20,231.30 169.80,231.20 169.80,222.70 169.80,240.50 170.50,229.40 170.50,229.40 171.20,229.19 172.13,228.91 173.26,228.57 174.52,228.20 175.89,227.84 177.30,227.50 178.82,227.17 180.50,226.83 182.28,226.49 184.09,226.17 185.88,225.86 187.60,225.60 189.24,225.38 190.85,225.19 192.44,225.03 194.03,224.88 195.61,224.74 197.20,224.60 198.73,224.46 200.19,224.34 201.64,224.22 203.17,224.11 204.86,224.01 206.80,223.90 209.21,223.79 212.07,223.67 215.10,223.56 217.99,223.45 220.46,223.36 222.20,223.30 222.70,223.30 222.70,218.30 222.70,226.00 222.80,222.50 225.40,221.90" fill="none" stroke="#00ff00" stroke-width="1.5" stroke-linejoin="round"/>
<polyline points="135.40,233.20 152.50,234.20 153.50,219.80 153.70,240.50 154.00,234.00 154.70,228.40 168.00,225.50 181.80,223.20 181.80,213.50 189.00,213.50 193.40,212.40 200.00,211.10 211.70,209.70 224.20,208.50" fill="none" stroke="#0000ff" stroke-width="1.5" stroke-linejoin="round" stroke-dasharray="4,3"/>
<polyline points="135.40,233.20 152.50,234.20 152.70,219.30 152.90,241.00 153.30,234.00 154.70,228.40 168.00,225.50 182.00,223.20 193.00,222.20 193.40,210.70 193.60,214.00 195.30,214.00 202.00,212.10 211.70,210.20 224.60,208.70" fill="none" stroke="#ff0000" stroke-width="1.5" stroke-linejoin="round" stroke-dasharray="1.2,1.3"/>
<line x1="135.40" y1="248.00" x2="135.40" y2="246.50" stroke="#7a7a7a" stroke-width="0.8"/>
<line x1="135.40" y1="204.00" x2="135.40" y2="205.50" stroke="#7a7a7a" stroke-width="0.8"/>
<line x1="153.42" y1="248.00" x2="153.42" y2="246.50" stroke="#7a7a7a" stroke-width="0.8"/>
<line x1="153.42" y1="204.00" x2="153.42" y2="205.50" stroke="#7a7a7a" stroke-width="0.8"/>
<line x1="171.44" y1="248.00" x2="171.44" y2="246.50" stroke="#7a7a7a" stroke-width="0.8"/>
<line x1="171.44" y1="204.00" x2="171.44" y2="205.50" stroke="#7a7a7a" stroke-width="0.8"/>
<line x1="189.46" y1="248.00" x2="189.46" y2="246.50" stroke="#7a7a7a" stroke-width="0.8"/>
<line x1="189.46" y1="204.00" x2="189.46" y2="205.50" stroke="#7a7a7a" stroke-width="0.8"/>
<line x1="207.48" y1="248.00" x2="207.48" y2="246.50" stroke="#7a7a7a" stroke-width="0.8"/>
<line x1="207.48" y1="204.00" x2="207.48" y2="205.50" stroke="#7a7a7a" stroke-width="0.8"/>
<line x1="225.50" y1="248.00" x2="225.50" y2="246.50" stroke="#7a7a7a" stroke-width="0.8"/>
<line x1="225.50" y1="204.00" x2="225.50" y2="205.50" stroke="#7a7a7a" stroke-width="0.8"/>
<line x1="135.40" y1="248.00" x2="136.90" y2="248.00" stroke="#7a7a7a" stroke-width="0.8"/>
<line x1="135.40" y1="239.20" x2="136.90" y2="239.20" stroke="#7a7a7a" stroke-width="0.8"/>
<line x1="135.40" y1="230.40" x2="136.90" y2="230.40" stroke="#7a7a7a" stroke-width="0.8"/>
<line x1="135.40" y1="221.60" x2="136.90" y2="221.60" stroke="#7a7a7a" stroke-width="0.8"/>
<line x1="135.40" y1="212.80" x2="136.90" y2="212.80" stroke="#7a7a7a" stroke-width="0.8"/>
<line x1="135.40" y1="204.00" x2="136.90" y2="204.00" stroke="#7a7a7a" stroke-width="0.8"/>
<line x1="225.50" y1="248.00" x2="224.00" y2="248.00" stroke="#7a7a7a" stroke-width="0.8"/>
<line x1="225.50" y1="239.20" x2="224.00" y2="239.20" stroke="#7a7a7a" stroke-width="0.8"/>
<line x1="225.50" y1="230.40" x2="224.00" y2="230.40" stroke="#7a7a7a" stroke-width="0.8"/>
<line x1="225.50" y1="221.60" x2="224.00" y2="221.60" stroke="#7a7a7a" stroke-width="0.8"/>
<line x1="225.50" y1="212.80" x2="224.00" y2="212.80" stroke="#7a7a7a" stroke-width="0.8"/>
<line x1="225.50" y1="204.00" x2="224.00" y2="204.00" stroke="#7a7a7a" stroke-width="0.8"/>
<line x1="135.40" y1="204.00" x2="225.50" y2="204.00" stroke="#a8a8a8" stroke-width="1.0"/>
<line x1="135.40" y1="248.00" x2="225.50" y2="248.00" stroke="#a8a8a8" stroke-width="1.0"/>
<line x1="135.40" y1="204.00" x2="135.40" y2="248.00" stroke="#a8a8a8" stroke-width="1.0"/>
<line x1="225.50" y1="204.00" x2="225.50" y2="248.00" stroke="#a8a8a8" stroke-width="1.0"/>
<text x="133.70" y="254.90" font-size="5.3" fill="#262626" stroke="#262626" text-anchor="middle">7.0</text>
<text x="152.00" y="254.90" font-size="5.3" fill="#262626" stroke="#262626" text-anchor="middle">8.0</text>
<text x="170.30" y="254.90" font-size="5.3" fill="#262626" stroke="#262626" text-anchor="middle">9.0</text>
<text x="188.60" y="254.90" font-size="5.3" fill="#262626" stroke="#262626" text-anchor="middle">10.0</text>
<text x="206.90" y="254.90" font-size="5.3" fill="#262626" stroke="#262626" text-anchor="middle">11.0</text>
<text x="225.20" y="254.90" font-size="5.3" fill="#262626" stroke="#262626" text-anchor="middle">12.0</text>
<text x="128.90" y="249.90" font-size="5.3" fill="#262626" stroke="#262626" text-anchor="end">-0.9</text>
<text x="128.90" y="241.10" font-size="5.3" fill="#262626" stroke="#262626" text-anchor="end">-0.6</text>
<text x="128.90" y="232.30" font-size="5.3" fill="#262626" stroke="#262626" text-anchor="end">-0.3</text>
<text x="128.90" y="223.50" font-size="5.3" fill="#262626" stroke="#262626" text-anchor="end">0.0</text>
<text x="128.90" y="214.70" font-size="5.3" fill="#262626" stroke="#262626" text-anchor="end">0.3</text>
<text x="128.90" y="205.90" font-size="5.3" fill="#262626" stroke="#262626" text-anchor="end">0.6</text>
<text class="cap" x="129.70" y="357.20" font-size="12" fill="#111" text-anchor="middle">(c)</text>
<line x1="298.60" y1="198.50" x2="298.60" y2="318.00" stroke="#f2f2f2" stroke-width="0.6"/>
<line x1="346.70" y1="198.50" x2="346.70" y2="318.00" stroke="#f2f2f2" stroke-width="0.6"/>
<line x1="394.80" y1="198.50" x2="394.80" y2="318.00" stroke="#f2f2f2" stroke-width="0.6"/>
<line x1="442.90" y1="198.50" x2="442.90" y2="318.00" stroke="#f2f2f2" stroke-width="0.6"/>
<line x1="491.00" y1="198.50" x2="491.00" y2="318.00" stroke="#f2f2f2" stroke-width="0.6"/>
<line x1="298.60" y1="318.00" x2="491.00" y2="318.00" stroke="#f2f2f2" stroke-width="0.6"/>
<line x1="298.60" y1="294.10" x2="491.00" y2="294.10" stroke="#f2f2f2" stroke-width="0.6"/>
<line x1="298.60" y1="270.20" x2="491.00" y2="270.20" stroke="#f2f2f2" stroke-width="0.6"/>
<line x1="298.60" y1="246.30" x2="491.00" y2="246.30" stroke="#f2f2f2" stroke-width="0.6"/>
<line x1="298.60" y1="222.40" x2="491.00" y2="222.40" stroke="#f2f2f2" stroke-width="0.6"/>
<line x1="298.60" y1="198.50" x2="491.00" y2="198.50" stroke="#f2f2f2" stroke-width="0.6"/>
<polyline points="298.60,306.50 321.10,306.50 321.10,306.50 321.72,304.98 322.55,302.90 323.55,300.42 324.66,297.71 325.83,294.95 327.00,292.30 328.23,289.65 329.59,286.86 330.99,284.00 332.40,281.18 333.76,278.48 335.00,276.00 336.12,273.75 337.15,271.67 338.12,269.71 339.07,267.83 340.02,266.01 341.00,264.20 341.98,262.43 342.93,260.73 343.88,259.09 344.85,257.47 345.88,255.85 347.00,254.20 348.19,252.52 349.44,250.83 350.75,249.14 352.11,247.46 353.53,245.81 355.00,244.20 356.55,242.62 358.19,241.05 359.88,239.51 361.59,238.01 363.31,236.57 365.00,235.20 366.67,233.90 368.33,232.67 370.00,231.49 371.67,230.36 373.33,229.26 375.00,228.20 376.67,227.17 378.33,226.17 380.00,225.21 381.67,224.30 383.33,223.42 385.00,222.60 386.67,221.84 388.33,221.15 390.00,220.50 391.67,219.87 393.33,219.25 395.00,218.60 396.65,217.93 398.28,217.27 399.91,216.61 401.56,215.94 403.25,215.27 405.00,214.60 406.88,213.88 408.88,213.12 410.92,212.35 412.92,211.63 414.81,210.99 416.50,210.50 417.96,210.16 419.24,209.94 420.41,209.82 421.52,209.76 422.63,209.73 423.80,209.70 424.97,209.67 426.10,209.66 427.23,209.68 428.40,209.75 429.68,209.89 431.10,210.10 432.69,210.39 434.40,210.76 436.21,211.19 438.09,211.67 440.03,212.21 442.00,212.80 444.02,213.45 446.13,214.16 448.28,214.93 450.46,215.73 452.64,216.56 454.80,217.40 456.93,218.28 459.07,219.20 461.20,220.16 463.33,221.11 465.47,222.03 467.60,222.90 469.76,223.71 471.94,224.49 474.12,225.24 476.28,225.97 478.38,226.69 480.40,227.40 482.44,228.14 484.55,228.92 486.60,229.68 488.47,230.38 490.05,230.97 491.20,231.40" fill="none" stroke="#00ff00" stroke-width="1.9" stroke-linejoin="round"/>
<line x1="298.60" y1="318.00" x2="298.60" y2="316.00" stroke="#7a7a7a" stroke-width="0.8"/>
<line x1="298.60" y1="198.50" x2="298.60" y2="200.50" stroke="#7a7a7a" stroke-width="0.8"/>
<line x1="346.70" y1="318.00" x2="346.70" y2="316.00" stroke="#7a7a7a" stroke-width="0.8"/>
<line x1="346.70" y1="198.50" x2="346.70" y2="200.50" stroke="#7a7a7a" stroke-width="0.8"/>
<line x1="394.80" y1="318.00" x2="394.80" y2="316.00" stroke="#7a7a7a" stroke-width="0.8"/>
<line x1="394.80" y1="198.50" x2="394.80" y2="200.50" stroke="#7a7a7a" stroke-width="0.8"/>
<line x1="442.90" y1="318.00" x2="442.90" y2="316.00" stroke="#7a7a7a" stroke-width="0.8"/>
<line x1="442.90" y1="198.50" x2="442.90" y2="200.50" stroke="#7a7a7a" stroke-width="0.8"/>
<line x1="491.00" y1="318.00" x2="491.00" y2="316.00" stroke="#7a7a7a" stroke-width="0.8"/>
<line x1="491.00" y1="198.50" x2="491.00" y2="200.50" stroke="#7a7a7a" stroke-width="0.8"/>
<line x1="298.60" y1="318.00" x2="300.60" y2="318.00" stroke="#7a7a7a" stroke-width="0.8"/>
<line x1="298.60" y1="294.10" x2="300.60" y2="294.10" stroke="#7a7a7a" stroke-width="0.8"/>
<line x1="298.60" y1="270.20" x2="300.60" y2="270.20" stroke="#7a7a7a" stroke-width="0.8"/>
<line x1="298.60" y1="246.30" x2="300.60" y2="246.30" stroke="#7a7a7a" stroke-width="0.8"/>
<line x1="298.60" y1="222.40" x2="300.60" y2="222.40" stroke="#7a7a7a" stroke-width="0.8"/>
<line x1="298.60" y1="198.50" x2="300.60" y2="198.50" stroke="#7a7a7a" stroke-width="0.8"/>
<line x1="491.00" y1="318.00" x2="489.00" y2="318.00" stroke="#7a7a7a" stroke-width="0.8"/>
<line x1="491.00" y1="294.10" x2="489.00" y2="294.10" stroke="#7a7a7a" stroke-width="0.8"/>
<line x1="491.00" y1="270.20" x2="489.00" y2="270.20" stroke="#7a7a7a" stroke-width="0.8"/>
<line x1="491.00" y1="246.30" x2="489.00" y2="246.30" stroke="#7a7a7a" stroke-width="0.8"/>
<line x1="491.00" y1="222.40" x2="489.00" y2="222.40" stroke="#7a7a7a" stroke-width="0.8"/>
<line x1="491.00" y1="198.50" x2="489.00" y2="198.50" stroke="#7a7a7a" stroke-width="0.8"/>
<line x1="298.60" y1="198.50" x2="491.00" y2="198.50" stroke="#a8a8a8" stroke-width="1.0"/>
<line x1="298.60" y1="318.00" x2="491.00" y2="318.00" stroke="#a8a8a8" stroke-width="1.0"/>
<line x1="298.60" y1="198.50" x2="298.60" y2="318.00" stroke="#a8a8a8" stroke-width="1.0"/>
<line x1="491.00" y1="198.50" x2="491.00" y2="318.00" stroke="#a8a8a8" stroke-width="1.0"/>
<text x="299.40" y="326.60" font-size="7" fill="#262626" stroke="#262626" text-anchor="middle">7.0</text>
<text x="347.50" y="326.60" font-size="7" fill="#262626" stroke="#262626" text-anchor="middle">9.0</text>
<text x="395.60" y="326.60" font-size="7" fill="#262626" stroke="#262626" text-anchor="middle">11.0</text>
<text x="443.70" y="326.60" font-size="7" fill="#262626" stroke="#262626" text-anchor="middle">13.0</text>
<text x="491.80" y="326.60" font-size="7" fill="#262626" stroke="#262626" text-anchor="middle">15.0</text>
<text x="292.70" y="320.50" font-size="7" fill="#262626" stroke="#262626" text-anchor="end">48.0</text>
<text x="292.70" y="296.60" font-size="7" fill="#262626" stroke="#262626" text-anchor="end">48.2</text>
<text x="292.70" y="272.70" font-size="7" fill="#262626" stroke="#262626" text-anchor="end">48.4</text>
<text x="292.70" y="248.80" font-size="7" fill="#262626" stroke="#262626" text-anchor="end">48.6</text>
<text x="292.70" y="224.90" font-size="7" fill="#262626" stroke="#262626" text-anchor="end">48.8</text>
<text x="292.70" y="201.00" font-size="7" fill="#262626" stroke="#262626" text-anchor="end">49.0</text>
<text x="0" y="0" font-size="7.0" fill="#262626" stroke="#262626" text-anchor="middle" transform="translate(271.70,258.40) rotate(-90)">corrected minimum frequency [Hz]</text>
<text x="395.00" y="336.00" font-size="7" fill="#262626" stroke="#262626" text-anchor="middle">time [s]</text>
<rect x="450.80" y="306.80" width="37.20" height="8.80" fill="#fff" stroke="#d4d4d4" stroke-width="0.8"/>
<line x1="451.80" y1="311.00" x2="462.30" y2="311.00" stroke="#00ff00" stroke-width="1.8"/>
<text x="463.30" y="314.10" font-size="7" fill="#262626" stroke="#262626">UFLS-1</text>
<text class="cap" x="389.60" y="357.30" font-size="12" fill="#111" text-anchor="middle">(d)</text>
<line x1="41.50" y1="385.50" x2="41.50" y2="505.30" stroke="#f2f2f2" stroke-width="0.6"/>
<line x1="89.12" y1="385.50" x2="89.12" y2="505.30" stroke="#f2f2f2" stroke-width="0.6"/>
<line x1="136.75" y1="385.50" x2="136.75" y2="505.30" stroke="#f2f2f2" stroke-width="0.6"/>
<line x1="184.38" y1="385.50" x2="184.38" y2="505.30" stroke="#f2f2f2" stroke-width="0.6"/>
<line x1="232.00" y1="385.50" x2="232.00" y2="505.30" stroke="#f2f2f2" stroke-width="0.6"/>
<line x1="41.50" y1="505.30" x2="232.00" y2="505.30" stroke="#f2f2f2" stroke-width="0.6"/>
<line x1="41.50" y1="465.37" x2="232.00" y2="465.37" stroke="#f2f2f2" stroke-width="0.6"/>
<line x1="41.50" y1="425.43" x2="232.00" y2="425.43" stroke="#f2f2f2" stroke-width="0.6"/>
<line x1="41.50" y1="385.50" x2="232.00" y2="385.50" stroke="#f2f2f2" stroke-width="0.6"/>
<polyline points="41.50,491.10 62.50,490.50 69.60,490.40 69.60,479.30 78.30,478.80 78.30,467.50 86.10,466.80 86.10,455.20 94.40,453.80 110.90,451.60 129.80,450.30 156.20,449.60 156.20,437.30 173.50,436.40 202.30,435.90 232.00,435.80" fill="none" stroke="#00ff00" stroke-width="1.9" stroke-linejoin="round"/>
<polyline points="41.50,491.10 62.50,490.50 64.80,490.40 64.80,450.20 66.00,449.00 75.50,447.40 87.30,446.20 101.50,445.00 102.20,444.90 102.20,395.40 110.90,394.70 125.10,394.20 139.30,393.90 154.20,393.60 183.00,393.90 211.90,394.40 232.00,394.80" fill="none" stroke="#0000ff" stroke-width="1.9" stroke-linejoin="round" stroke-dasharray="5.5,4.5"/>
<polyline points="41.50,491.10 62.50,490.50 63.20,490.40 63.20,450.40 66.00,449.00 75.50,447.40 87.30,446.20 101.50,445.00 117.30,443.80 117.30,395.40 125.10,394.70 139.30,393.90 154.20,393.60 183.00,393.90 211.90,394.40 232.00,394.80" fill="none" stroke="#ff0000" stroke-width="1.9" stroke-linejoin="round" stroke-dasharray="1.5,1.3"/>
<line x1="41.50" y1="505.30" x2="41.50" y2="503.30" stroke="#7a7a7a" stroke-width="0.8"/>
<line x1="41.50" y1="385.50" x2="41.50" y2="387.50" stroke="#7a7a7a" stroke-width="0.8"/>
<line x1="89.12" y1="505.30" x2="89.12" y2="503.30" stroke="#7a7a7a" stroke-width="0.8"/>
<line x1="89.12" y1="385.50" x2="89.12" y2="387.50" stroke="#7a7a7a" stroke-width="0.8"/>
<line x1="136.75" y1="505.30" x2="136.75" y2="503.30" stroke="#7a7a7a" stroke-width="0.8"/>
<line x1="136.75" y1="385.50" x2="136.75" y2="387.50" stroke="#7a7a7a" stroke-width="0.8"/>
<line x1="184.38" y1="505.30" x2="184.38" y2="503.30" stroke="#7a7a7a" stroke-width="0.8"/>
<line x1="184.38" y1="385.50" x2="184.38" y2="387.50" stroke="#7a7a7a" stroke-width="0.8"/>
<line x1="232.00" y1="505.30" x2="232.00" y2="503.30" stroke="#7a7a7a" stroke-width="0.8"/>
<line x1="232.00" y1="385.50" x2="232.00" y2="387.50" stroke="#7a7a7a" stroke-width="0.8"/>
<line x1="41.50" y1="505.30" x2="43.50" y2="505.30" stroke="#7a7a7a" stroke-width="0.8"/>
<line x1="41.50" y1="465.37" x2="43.50" y2="465.37" stroke="#7a7a7a" stroke-width="0.8"/>
<line x1="41.50" y1="425.43" x2="43.50" y2="425.43" stroke="#7a7a7a" stroke-width="0.8"/>
<line x1="41.50" y1="385.50" x2="43.50" y2="385.50" stroke="#7a7a7a" stroke-width="0.8"/>
<line x1="232.00" y1="505.30" x2="230.00" y2="505.30" stroke="#7a7a7a" stroke-width="0.8"/>
<line x1="232.00" y1="465.37" x2="230.00" y2="465.37" stroke="#7a7a7a" stroke-width="0.8"/>
<line x1="232.00" y1="425.43" x2="230.00" y2="425.43" stroke="#7a7a7a" stroke-width="0.8"/>
<line x1="232.00" y1="385.50" x2="230.00" y2="385.50" stroke="#7a7a7a" stroke-width="0.8"/>
<line x1="41.50" y1="385.50" x2="232.00" y2="385.50" stroke="#a8a8a8" stroke-width="1.0"/>
<line x1="41.50" y1="505.30" x2="232.00" y2="505.30" stroke="#a8a8a8" stroke-width="1.0"/>
<line x1="41.50" y1="385.50" x2="41.50" y2="505.30" stroke="#a8a8a8" stroke-width="1.0"/>
<line x1="232.00" y1="385.50" x2="232.00" y2="505.30" stroke="#a8a8a8" stroke-width="1.0"/>
<text x="42.30" y="513.90" font-size="7" fill="#262626" stroke="#262626" text-anchor="middle">7.0</text>
<text x="89.92" y="513.90" font-size="7" fill="#262626" stroke="#262626" text-anchor="middle">9.0</text>
<text x="137.55" y="513.90" font-size="7" fill="#262626" stroke="#262626" text-anchor="middle">11.0</text>
<text x="185.18" y="513.90" font-size="7" fill="#262626" stroke="#262626" text-anchor="middle">13.0</text>
<text x="232.80" y="513.90" font-size="7" fill="#262626" stroke="#262626" text-anchor="middle">15.0</text>
<text x="35.60" y="507.80" font-size="7" fill="#262626" stroke="#262626" text-anchor="end">-0.50</text>
<text x="35.60" y="467.87" font-size="7" fill="#262626" stroke="#262626" text-anchor="end">-0.40</text>
<text x="35.60" y="427.93" font-size="7" fill="#262626" stroke="#262626" text-anchor="end">-0.30</text>
<text x="35.60" y="388.00" font-size="7" fill="#262626" stroke="#262626" text-anchor="end">-0.20</text>
<text x="0" y="0" font-size="7.0" fill="#262626" stroke="#262626" text-anchor="middle" transform="translate(12.50,445.70) rotate(-90)">active power [pu]</text>
<text x="136.50" y="522.50" font-size="7" fill="#262626" stroke="#262626" text-anchor="middle">time [s]</text>
<rect x="191.10" y="477.00" width="38.20" height="25.00" fill="#fff" stroke="#d4d4d4" stroke-width="0.8"/>
<line x1="192.10" y1="481.20" x2="202.60" y2="481.20" stroke="#00ff00" stroke-width="1.8"/>
<text x="203.60" y="484.30" font-size="7" fill="#262626" stroke="#262626">UFLS-1</text>
<line x1="192.10" y1="489.50" x2="202.60" y2="489.50" stroke="#0000ff" stroke-width="1.8" stroke-dasharray="5.5,4.5"/>
<text x="203.60" y="492.60" font-size="7" fill="#262626" stroke="#262626">UFLS-2</text>
<line x1="192.10" y1="497.80" x2="202.60" y2="497.80" stroke="#ff0000" stroke-width="1.8" stroke-dasharray="1.5,1.3"/>
<text x="203.60" y="500.90" font-size="7" fill="#262626" stroke="#262626">UFLS-3</text>
<text class="cap" x="129.80" y="543.30" font-size="12" fill="#111" text-anchor="middle">(e)</text>
<line x1="300.70" y1="385.50" x2="300.70" y2="505.50" stroke="#f2f2f2" stroke-width="0.6"/>
<line x1="348.40" y1="385.50" x2="348.40" y2="505.50" stroke="#f2f2f2" stroke-width="0.6"/>
<line x1="396.10" y1="385.50" x2="396.10" y2="505.50" stroke="#f2f2f2" stroke-width="0.6"/>
<line x1="443.80" y1="385.50" x2="443.80" y2="505.50" stroke="#f2f2f2" stroke-width="0.6"/>
<line x1="491.50" y1="385.50" x2="491.50" y2="505.50" stroke="#f2f2f2" stroke-width="0.6"/>
<line x1="300.70" y1="505.50" x2="491.50" y2="505.50" stroke="#f2f2f2" stroke-width="0.6"/>
<line x1="300.70" y1="488.36" x2="491.50" y2="488.36" stroke="#f2f2f2" stroke-width="0.6"/>
<line x1="300.70" y1="471.21" x2="491.50" y2="471.21" stroke="#f2f2f2" stroke-width="0.6"/>
<line x1="300.70" y1="454.07" x2="491.50" y2="454.07" stroke="#f2f2f2" stroke-width="0.6"/>
<line x1="300.70" y1="436.93" x2="491.50" y2="436.93" stroke="#f2f2f2" stroke-width="0.6"/>
<line x1="300.70" y1="419.79" x2="491.50" y2="419.79" stroke="#f2f2f2" stroke-width="0.6"/>
<line x1="300.70" y1="402.64" x2="491.50" y2="402.64" stroke="#f2f2f2" stroke-width="0.6"/>
<line x1="300.70" y1="385.50" x2="491.50" y2="385.50" stroke="#f2f2f2" stroke-width="0.6"/>
<polyline points="300.70,505.20 322.60,505.20 322.60,505.20 323.28,503.28 324.22,500.62 325.34,497.47 326.54,494.10 327.76,490.79 328.90,487.80 329.98,485.10 331.08,482.48 332.19,479.91 333.30,477.37 334.40,474.84 335.50,472.30 336.59,469.74 337.67,467.16 338.75,464.59 339.83,462.06 340.91,459.59 342.00,457.20 343.08,454.89 344.16,452.64 345.23,450.44 346.32,448.31 347.44,446.23 348.60,444.20 349.81,442.22 351.06,440.30 352.33,438.43 353.62,436.62 354.92,434.88 356.20,433.20 357.47,431.60 358.72,430.09 359.98,428.64 361.26,427.23 362.56,425.86 363.90,424.50 365.27,423.17 366.64,421.89 368.05,420.64 369.50,419.40 371.01,418.16 372.60,416.90 374.29,415.61 376.07,414.30 377.91,412.98 379.79,411.68 381.66,410.42 383.50,409.20 385.32,408.04 387.13,406.91 388.95,405.81 390.77,404.75 392.58,403.71 394.40,402.70 396.20,401.73 397.99,400.81 399.77,399.92 401.58,399.04 403.41,398.14 405.30,397.20 407.31,396.16 409.46,395.02 411.63,393.87 413.74,392.78 415.70,391.83 417.40,391.10 418.79,390.62 419.92,390.33 420.90,390.19 421.81,390.13 422.75,390.12 423.80,390.10 424.92,390.07 426.03,390.08 427.17,390.13 428.37,390.22 429.66,390.38 431.10,390.60 432.69,390.89 434.40,391.23 436.21,391.64 438.09,392.10 440.03,392.62 442.00,393.20 444.02,393.85 446.13,394.57 448.28,395.34 450.46,396.17 452.64,397.02 454.80,397.90 456.93,398.81 459.07,399.76 461.20,400.74 463.33,401.75 465.47,402.77 467.60,403.80 469.75,404.84 471.93,405.92 474.11,407.01 476.27,408.09 478.37,409.16 480.40,410.20 482.46,411.27 484.61,412.39 486.70,413.50 488.61,414.52 490.22,415.38 491.40,416.00" fill="none" stroke="#ff0000" stroke-width="1.9" stroke-linejoin="round"/>
<line x1="300.70" y1="505.50" x2="300.70" y2="503.50" stroke="#7a7a7a" stroke-width="0.8"/>
<line x1="300.70" y1="385.50" x2="300.70" y2="387.50" stroke="#7a7a7a" stroke-width="0.8"/>
<line x1="348.40" y1="505.50" x2="348.40" y2="503.50" stroke="#7a7a7a" stroke-width="0.8"/>
<line x1="348.40" y1="385.50" x2="348.40" y2="387.50" stroke="#7a7a7a" stroke-width="0.8"/>
<line x1="396.10" y1="505.50" x2="396.10" y2="503.50" stroke="#7a7a7a" stroke-width="0.8"/>
<line x1="396.10" y1="385.50" x2="396.10" y2="387.50" stroke="#7a7a7a" stroke-width="0.8"/>
<line x1="443.80" y1="505.50" x2="443.80" y2="503.50" stroke="#7a7a7a" stroke-width="0.8"/>
<line x1="443.80" y1="385.50" x2="443.80" y2="387.50" stroke="#7a7a7a" stroke-width="0.8"/>
<line x1="491.50" y1="505.50" x2="491.50" y2="503.50" stroke="#7a7a7a" stroke-width="0.8"/>
<line x1="491.50" y1="385.50" x2="491.50" y2="387.50" stroke="#7a7a7a" stroke-width="0.8"/>
<line x1="300.70" y1="505.50" x2="302.70" y2="505.50" stroke="#7a7a7a" stroke-width="0.8"/>
<line x1="300.70" y1="488.36" x2="302.70" y2="488.36" stroke="#7a7a7a" stroke-width="0.8"/>
<line x1="300.70" y1="471.21" x2="302.70" y2="471.21" stroke="#7a7a7a" stroke-width="0.8"/>
<line x1="300.70" y1="454.07" x2="302.70" y2="454.07" stroke="#7a7a7a" stroke-width="0.8"/>
<line x1="300.70" y1="436.93" x2="302.70" y2="436.93" stroke="#7a7a7a" stroke-width="0.8"/>
<line x1="300.70" y1="419.79" x2="302.70" y2="419.79" stroke="#7a7a7a" stroke-width="0.8"/>
<line x1="300.70" y1="402.64" x2="302.70" y2="402.64" stroke="#7a7a7a" stroke-width="0.8"/>
<line x1="300.70" y1="385.50" x2="302.70" y2="385.50" stroke="#7a7a7a" stroke-width="0.8"/>
<line x1="491.50" y1="505.50" x2="489.50" y2="505.50" stroke="#7a7a7a" stroke-width="0.8"/>
<line x1="491.50" y1="488.36" x2="489.50" y2="488.36" stroke="#7a7a7a" stroke-width="0.8"/>
<line x1="491.50" y1="471.21" x2="489.50" y2="471.21" stroke="#7a7a7a" stroke-width="0.8"/>
<line x1="491.50" y1="454.07" x2="489.50" y2="454.07" stroke="#7a7a7a" stroke-width="0.8"/>
<line x1="491.50" y1="436.93" x2="489.50" y2="436.93" stroke="#7a7a7a" stroke-width="0.8"/>
<line x1="491.50" y1="419.79" x2="489.50" y2="419.79" stroke="#7a7a7a" stroke-width="0.8"/>
<line x1="491.50" y1="402.64" x2="489.50" y2="402.64" stroke="#7a7a7a" stroke-width="0.8"/>
<line x1="491.50" y1="385.50" x2="489.50" y2="385.50" stroke="#7a7a7a" stroke-width="0.8"/>
<line x1="300.70" y1="385.50" x2="491.50" y2="385.50" stroke="#a8a8a8" stroke-width="1.0"/>
<line x1="300.70" y1="505.50" x2="491.50" y2="505.50" stroke="#a8a8a8" stroke-width="1.0"/>
<line x1="300.70" y1="385.50" x2="300.70" y2="505.50" stroke="#a8a8a8" stroke-width="1.0"/>
<line x1="491.50" y1="385.50" x2="491.50" y2="505.50" stroke="#a8a8a8" stroke-width="1.0"/>
<text x="301.50" y="514.10" font-size="7" fill="#262626" stroke="#262626" text-anchor="middle">7.0</text>
<text x="349.20" y="514.10" font-size="7" fill="#262626" stroke="#262626" text-anchor="middle">9.0</text>
<text x="396.90" y="514.10" font-size="7" fill="#262626" stroke="#262626" text-anchor="middle">11.0</text>
<text x="444.60" y="514.10" font-size="7" fill="#262626" stroke="#262626" text-anchor="middle">13.0</text>
<text x="492.30" y="514.10" font-size="7" fill="#262626" stroke="#262626" text-anchor="middle">15.0</text>
<text x="294.80" y="508.00" font-size="7" fill="#262626" stroke="#262626" text-anchor="end">-0.75</text>
<text x="294.80" y="490.86" font-size="7" fill="#262626" stroke="#262626" text-anchor="end">-0.65</text>
<text x="294.80" y="473.71" font-size="7" fill="#262626" stroke="#262626" text-anchor="end">-0.55</text>
<text x="294.80" y="456.57" font-size="7" fill="#262626" stroke="#262626" text-anchor="end">-0.45</text>
<text x="294.80" y="439.43" font-size="7" fill="#262626" stroke="#262626" text-anchor="end">-0.35</text>
<text x="294.80" y="422.29" font-size="7" fill="#262626" stroke="#262626" text-anchor="end">-0.25</text>
<text x="294.80" y="405.14" font-size="7" fill="#262626" stroke="#262626" text-anchor="end">-0.15</text>
<text x="294.80" y="388.00" font-size="7" fill="#262626" stroke="#262626" text-anchor="end">-0.05</text>
<text x="0" y="0" font-size="7.0" fill="#262626" stroke="#262626" text-anchor="middle" transform="translate(271.80,445.20) rotate(-90)">maximum RoCoF [Hz/s]</text>
<text x="396.00" y="522.50" font-size="7" fill="#262626" stroke="#262626" text-anchor="middle">time [s]</text>
<rect x="450.80" y="493.40" width="37.20" height="8.60" fill="#fff" stroke="#d4d4d4" stroke-width="0.8"/>
<line x1="451.80" y1="497.60" x2="462.30" y2="497.60" stroke="#ff0000" stroke-width="1.8"/>
<text x="463.30" y="500.70" font-size="7" fill="#262626" stroke="#262626">UFLS-1</text>
<text class="cap" x="389.60" y="543.30" font-size="12" fill="#111" text-anchor="middle">(f)</text>
</svg>
</body></html>
